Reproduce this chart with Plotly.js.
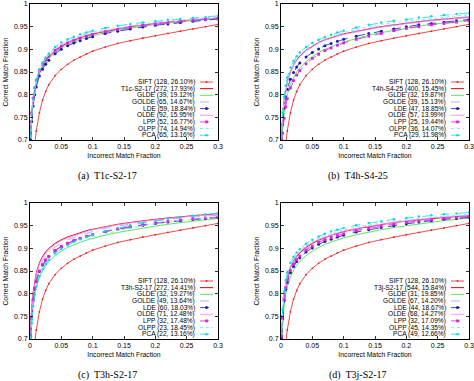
<!DOCTYPE html>
<html>
<head>
<meta charset="utf-8">
<script src="https://cdn.plot.ly/plotly-3.0.1.min.js"></script>
<style>html,body{margin:0;padding:0;background:#fff;}#chart{width:474px;height:381px;}</style>
</head>
<body>
<div id="chart"></div>
<script>
// Incorrect match fraction (x) at which the curves were read
const X = [0.001,0.0025,0.005,0.0075,0.01,0.015,0.02,0.025,0.03,0.04,0.05,0.06,0.07,0.08,0.09,0.1,0.12,0.14,0.16,0.18,0.2,0.22,0.24,0.26,0.28,0.3];

// SIFT baseline (same in every panel)
const SIFT = [0.55,0.60,0.65,0.69,0.72,0.76,0.788,0.807,0.822,0.842,0.856,0.867,0.876,0.883,0.89,0.896,0.905,0.913,0.919,0.925,0.930,0.935,0.940,0.945,0.950,0.955];

// Panel (a) T1c-S2-17
const A_T   = [0.705,0.75,0.785,0.809,0.826,0.849,0.864,0.875,0.884,0.897,0.907,0.915,0.921,0.926,0.930,0.934,0.940,0.945,0.950,0.954,0.957,0.960,0.963,0.965,0.967,0.969];
const A_GLDE  = [0.70,0.745,0.78,0.805,0.822,0.845,0.860,0.871,0.880,0.893,0.903,0.911,0.917,0.922,0.926,0.930,0.937,0.942,0.947,0.951,0.955,0.958,0.961,0.963,0.966,0.968];
const A_GOLDE = [0.705,0.748,0.783,0.807,0.824,0.847,0.862,0.873,0.882,0.895,0.905,0.913,0.919,0.924,0.928,0.932,0.939,0.944,0.949,0.953,0.956,0.959,0.962,0.964,0.966,0.968];
const A_LDE   = [0.70,0.74,0.775,0.80,0.817,0.841,0.856,0.867,0.876,0.890,0.900,0.908,0.914,0.919,0.924,0.928,0.935,0.940,0.945,0.949,0.953,0.956,0.959,0.962,0.965,0.967];
const A_OLDE  = [0.71,0.755,0.788,0.812,0.829,0.851,0.866,0.877,0.886,0.899,0.909,0.916,0.922,0.927,0.931,0.935,0.941,0.946,0.951,0.954,0.957,0.960,0.963,0.965,0.967,0.969];
const A_LPP   = [0.715,0.76,0.792,0.815,0.832,0.853,0.867,0.877,0.885,0.898,0.907,0.914,0.920,0.925,0.929,0.933,0.939,0.944,0.949,0.953,0.956,0.959,0.962,0.964,0.966,0.968];
const A_OLPP  = [0.705,0.75,0.787,0.812,0.830,0.853,0.868,0.879,0.888,0.902,0.912,0.919,0.925,0.930,0.934,0.938,0.944,0.949,0.953,0.957,0.960,0.963,0.965,0.967,0.970,0.972];
const A_PCA   = [0.71,0.755,0.79,0.815,0.833,0.856,0.871,0.882,0.891,0.905,0.915,0.922,0.928,0.933,0.937,0.941,0.947,0.952,0.956,0.959,0.962,0.965,0.967,0.969,0.971,0.974];

// Panel (b) T4h-S4-25
const B_T     = [0.70,0.75,0.785,0.81,0.828,0.851,0.866,0.877,0.885,0.898,0.907,0.915,0.921,0.926,0.930,0.934,0.940,0.945,0.950,0.954,0.958,0.961,0.964,0.967,0.969,0.971];
const B_GLDE  = [0.70,0.725,0.758,0.782,0.80,0.823,0.838,0.850,0.859,0.873,0.884,0.893,0.900,0.906,0.911,0.916,0.924,0.931,0.937,0.942,0.947,0.951,0.955,0.958,0.961,0.964];
const B_GOLDE = [0.705,0.752,0.787,0.811,0.829,0.852,0.867,0.878,0.886,0.899,0.908,0.916,0.922,0.927,0.931,0.935,0.941,0.946,0.951,0.955,0.959,0.962,0.965,0.968,0.970,0.972];
const B_LDE   = [0.70,0.735,0.77,0.795,0.812,0.834,0.849,0.861,0.870,0.883,0.893,0.901,0.908,0.913,0.918,0.922,0.929,0.935,0.940,0.945,0.950,0.954,0.957,0.960,0.963,0.966];
const B_OLDE  = [0.70,0.748,0.783,0.808,0.826,0.849,0.864,0.875,0.884,0.897,0.906,0.914,0.920,0.925,0.929,0.933,0.939,0.944,0.949,0.953,0.957,0.960,0.963,0.966,0.968,0.970];
const B_LPP   = [0.69,0.715,0.748,0.773,0.791,0.815,0.831,0.843,0.853,0.868,0.880,0.889,0.897,0.903,0.909,0.914,0.922,0.929,0.935,0.941,0.946,0.950,0.954,0.957,0.960,0.963];
const B_OLPP  = [0.705,0.755,0.79,0.815,0.833,0.855,0.869,0.880,0.888,0.900,0.909,0.917,0.923,0.928,0.933,0.937,0.944,0.950,0.955,0.959,0.962,0.966,0.969,0.972,0.974,0.976];
const B_PCA   = [0.71,0.76,0.795,0.82,0.838,0.86,0.874,0.885,0.893,0.905,0.914,0.921,0.927,0.932,0.937,0.941,0.948,0.954,0.959,0.963,0.966,0.970,0.973,0.976,0.978,0.980];

// Panel (c) T3h-S2-17
const C_T     = [0.715,0.765,0.802,0.828,0.846,0.868,0.882,0.892,0.900,0.911,0.919,0.925,0.930,0.935,0.939,0.942,0.948,0.953,0.957,0.961,0.964,0.967,0.970,0.972,0.974,0.976];
const C_GLDE  = [0.70,0.735,0.772,0.797,0.814,0.836,0.851,0.862,0.871,0.884,0.894,0.902,0.908,0.913,0.918,0.922,0.929,0.935,0.940,0.945,0.949,0.953,0.957,0.960,0.963,0.966];
const C_GOLDE = [0.71,0.752,0.79,0.816,0.834,0.857,0.872,0.883,0.891,0.903,0.912,0.919,0.924,0.929,0.933,0.937,0.944,0.949,0.954,0.958,0.961,0.964,0.967,0.969,0.971,0.973];
const C_LDE   = [0.705,0.745,0.785,0.81,0.827,0.849,0.863,0.874,0.882,0.895,0.904,0.911,0.917,0.922,0.926,0.930,0.937,0.942,0.947,0.951,0.955,0.958,0.961,0.964,0.966,0.968];
const C_OLDE  = [0.712,0.76,0.798,0.825,0.843,0.865,0.879,0.889,0.897,0.909,0.917,0.923,0.928,0.933,0.937,0.941,0.947,0.952,0.956,0.960,0.963,0.966,0.969,0.971,0.973,0.975];
const C_LPP   = [0.705,0.748,0.787,0.812,0.828,0.85,0.864,0.874,0.882,0.895,0.904,0.911,0.917,0.922,0.926,0.930,0.937,0.943,0.948,0.952,0.956,0.959,0.962,0.965,0.967,0.969];
const C_OLPP  = [0.70,0.732,0.77,0.795,0.812,0.834,0.849,0.860,0.869,0.883,0.893,0.901,0.908,0.914,0.919,0.924,0.932,0.939,0.945,0.950,0.955,0.959,0.962,0.965,0.968,0.970];
const C_PCA   = [0.70,0.735,0.772,0.798,0.816,0.839,0.854,0.866,0.875,0.889,0.899,0.907,0.914,0.920,0.925,0.930,0.938,0.945,0.951,0.956,0.961,0.965,0.969,0.972,0.975,0.978];

// Panel (d) T3j-S2-17
const D_T     = [0.71,0.755,0.795,0.82,0.837,0.858,0.872,0.882,0.890,0.902,0.911,0.918,0.924,0.929,0.933,0.937,0.943,0.948,0.953,0.957,0.960,0.963,0.966,0.968,0.970,0.972];
const D_GLDE  = [0.70,0.735,0.773,0.798,0.815,0.836,0.851,0.862,0.871,0.884,0.894,0.902,0.909,0.914,0.919,0.923,0.930,0.936,0.941,0.946,0.950,0.954,0.958,0.961,0.964,0.967];
const D_GOLDE = [0.705,0.752,0.792,0.817,0.834,0.855,0.869,0.879,0.887,0.899,0.908,0.916,0.922,0.927,0.931,0.935,0.941,0.946,0.951,0.955,0.959,0.962,0.965,0.967,0.969,0.971];
const D_LDE   = [0.70,0.745,0.785,0.809,0.825,0.846,0.86,0.871,0.879,0.892,0.901,0.909,0.915,0.920,0.925,0.929,0.936,0.941,0.946,0.950,0.954,0.958,0.961,0.964,0.966,0.968];
const D_OLDE  = [0.71,0.757,0.797,0.822,0.839,0.86,0.874,0.884,0.892,0.904,0.913,0.920,0.925,0.930,0.934,0.938,0.944,0.949,0.953,0.957,0.961,0.964,0.967,0.969,0.971,0.973];
const D_LPP   = [0.705,0.75,0.79,0.814,0.83,0.851,0.865,0.875,0.883,0.896,0.905,0.913,0.919,0.924,0.928,0.932,0.939,0.944,0.949,0.953,0.957,0.960,0.963,0.966,0.968,0.970];
const D_OLPP  = [0.71,0.76,0.80,0.825,0.842,0.863,0.876,0.886,0.894,0.906,0.915,0.922,0.928,0.933,0.937,0.941,0.947,0.952,0.956,0.960,0.963,0.966,0.969,0.971,0.973,0.975];
const D_PCA   = [0.715,0.765,0.805,0.83,0.847,0.868,0.881,0.891,0.898,0.910,0.919,0.926,0.932,0.937,0.941,0.945,0.951,0.956,0.960,0.964,0.967,0.970,0.973,0.975,0.977,0.979];

// Legend labels per panel
const LABELS_A = ["SIFT (128, 26.10%)","T1c-S2-17 (272, 17.93%)","GLDE (39, 19.12%)","GOLDE (65, 14.67%)","LDE (59, 18.84%)","OLDE (92, 15.95%)","LPP (52, 16.77%)","OLPP (74, 14.94%)","PCA (65, 13.16%)"];
const LABELS_B = ["SIFT (128, 26.10%)","T4h-S4-25 (400, 15.45%)","GLDE (32, 19.87%)","GOLDE (39, 15.13%)","LDE (47, 18.85%)","OLDE (57, 13.99%)","LPP (25, 19.44%)","OLPP (36, 14.07%)","PCA (29, 11.98%)"];
const LABELS_C = ["SIFT (128, 26.10%)","T3h-S2-17 (272, 14.41%)","GLDE (32, 19.27%)","GOLDE (49, 13.64%)","LDE (60, 18.03%)","OLDE (71, 12.48%)","LPP (32, 17.48%)","OLPP (23, 18.45%)","PCA (22, 13.16%)"];
const LABELS_D = ["SIFT (128, 26.10%)","T3j-S2-17 (544, 15.84%)","GLDE (31, 19.85%)","GOLDE (67, 14.20%)","LDE (44, 18.67%)","OLDE (68, 14.27%)","LPP (32, 17.09%)","OLPP (45, 14.35%)","PCA (49, 12.66%)"];
const CAPTIONS = ["(a)  T1c-S2-17","(b)  T4h-S4-25","(c)  T3h-S2-17","(d)  T3j-S2-17"];
const X_TITLE = "Incorrect Match Fraction";
const Y_TITLE = "Correct Match Fraction";

// ---- styles (order: SIFT, T, GLDE, GOLDE, LDE, OLDE, LPP, OLPP, PCA) ----
const STYLES = [
  {color:'#e8201c', dash:'solid', width:0.8, marker:'circle', msize:1.8},
  {color:'#e00010', dash:'solid', width:1.0, marker:null},
  {color:'#30e030', dash:'solid', width:0.8, marker:null},
  {color:'#9a9aff', dash:'dash', width:0.8, marker:null},
  {color:'#1a1ab8', dash:'dash', width:0.8, marker:'circle', msize:3.0},
  {color:'#ff88ff', dash:'solid', width:0.9, marker:null},
  {color:'#e020e0', dash:'dash', width:0.8, marker:'square', msize:2.8},
  {color:'#80f0f0', dash:'dot', width:1.0, marker:null},
  {color:'#10d8d8', dash:'dash', width:0.8, marker:'circle', msize:2.5}
];

const W = 474, H = 381;
// plot-area pixel boxes [left, right, top, bottom]
const BOXES = [[30,218,4,140],[281,469,4,140],[30,218,203,339],[281,469,203,339]];
const PANELS = [
  [SIFT,A_T,A_GLDE,A_GOLDE,A_LDE,A_OLDE,A_LPP,A_OLPP,A_PCA],
  [SIFT,B_T,B_GLDE,B_GOLDE,B_LDE,B_OLDE,B_LPP,B_OLPP,B_PCA],
  [SIFT,C_T,C_GLDE,C_GOLDE,C_LDE,C_OLDE,C_LPP,C_OLPP,C_PCA],
  [SIFT,D_T,D_GLDE,D_GOLDE,D_LDE,D_OLDE,D_LPP,D_OLPP,D_PCA]
];
const LABELS = [LABELS_A,LABELS_B,LABELS_C,LABELS_D];

const px = v => v / W;
const py = v => 1 - v / H;

const traces = [];
const layout = {
  width: W, height: H,
  margin: {l:0, r:0, t:0, b:0},
  paper_bgcolor: '#fff', plot_bgcolor: '#fff',
  showlegend: false,
  font: {family: 'Liberation Sans, Arial, sans-serif', size: 7, color: '#000'},
  annotations: [], shapes: []
};

const sansFont = {family:'Liberation Sans, Arial, sans-serif', size:6.6, color:'#000'};

PANELS.forEach((series, p) => {
  const n = p === 0 ? '' : String(p + 1);
  const xa = 'x' + n, ya = 'y' + n;
  const [L, R, T, B] = BOXES[p];
  series.forEach((ys, i) => {
    const st = STYLES[i];
    const tr = {
      type: 'scatter', x: X, y: ys, xaxis: xa, yaxis: ya,
      mode: st.marker ? 'lines+markers' : 'lines',
      name: LABELS[p][i],
      line: {color: st.color, width: st.width, dash: st.dash},
      hoverinfo: 'skip'
    };
    if (st.marker) tr.marker = {symbol: st.marker, size: st.msize, color: st.color};
    traces.push(tr);
  });
  const axCommon = {
    showline: true, linecolor: '#000', linewidth: 1, mirror: 'ticks',
    ticks: 'inside', ticklen: 3, tickwidth: 0.8, tickcolor: '#000',
    showgrid: false, zeroline: false, fixedrange: true,
    tickfont: {family:'Liberation Sans, Arial, sans-serif', size:7, color:'#000'}
  };
  layout['xaxis' + n] = Object.assign({}, axCommon, {
    domain: [px(L), px(R)], anchor: ya, range: [0, 0.3], dtick: 0.05, tick0: 0,
    title: {text: X_TITLE, font: {family:'Liberation Sans, Arial, sans-serif', size:6.8, color:'#000'}, standoff: 3}
  });
  layout['yaxis' + n] = Object.assign({}, axCommon, {
    domain: [py(B), py(T)], anchor: xa, range: [0.7, 1], dtick: 0.05, tick0: 0.7,
    title: {text: Y_TITLE, font: {family:'Liberation Sans, Arial, sans-serif', size:6.8, color:'#000'}, standoff: 4}
  });
  // legend (text right-aligned, key sample to the right)
  LABELS[p].forEach((lab, i) => {
    const yy = T + 78 + i * 6.65;
    layout.annotations.push({
      xref:'paper', yref:'paper', x: px(R - 21), y: py(yy), xanchor:'right', yanchor:'middle',
      text: lab, showarrow:false, font: sansFont
    });
    const st = STYLES[i];
    layout.shapes.push({
      type:'line', xref:'paper', yref:'paper', x0: px(R - 18), x1: px(R - 5), y0: py(yy), y1: py(yy),
      line: {color: st.color, width: st.width, dash: st.dash}
    });
    if (st.marker) {
      const s = st.msize / 2;
      layout.shapes.push({
        type: st.marker === 'square' ? 'rect' : 'circle', xref:'paper', yref:'paper',
        x0: px(R - 11.5 - s), x1: px(R - 11.5 + s), y0: py(yy + s), y1: py(yy - s),
        fillcolor: st.color, line: {width: 0}
      });
    }
  });
  // caption
  layout.annotations.push({
    xref:'paper', yref:'paper', x: px((L + R) / 2 - 17), y: py(B + 36), xanchor:'center', yanchor:'middle',
    text: CAPTIONS[p], showarrow:false,
    font: {family:'Liberation Serif, Times New Roman, serif', size:10, color:'#000'}
  });
});

Plotly.newPlot('chart', traces, layout, {staticPlot: true, displayModeBar: false});
</script>
</body>
</html>
